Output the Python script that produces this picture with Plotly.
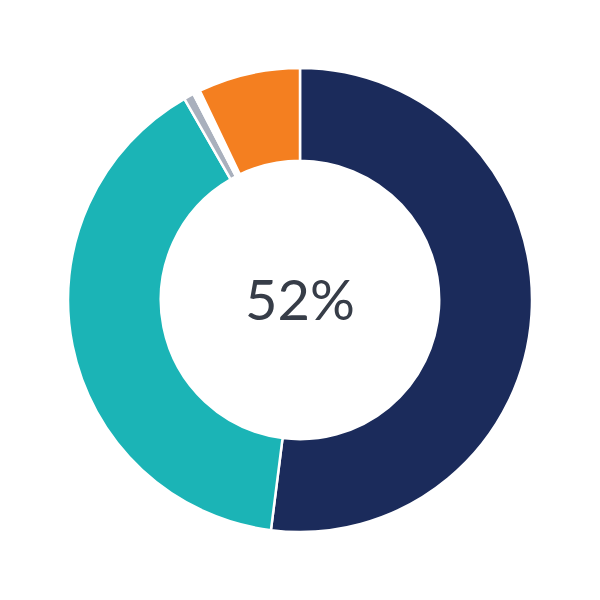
import plotly.graph_objects as go

labels = ["A", "B", "C", "D", "E"]
values = [52.0, 39.7, 0.7, 0.5, 7.1]
colors = ["#1b2b5b", "#1bb4b6", "#a9b0bd", "#ffffff", "#f47f20"]
center_text = "52%"

# page shows an 8px body margin; compensate so the ring centers at (300,300)
x0, x1 = 60/600, 524/600
y0, y1 = 76/600, 540/600

fig = go.Figure(go.Pie(
    labels=labels,
    values=values,
    hole=0.6,
    sort=False,
    direction="clockwise",
    rotation=0,
    marker=dict(colors=colors, line=dict(color="#ffffff", width=2.5)),
    textinfo="none",
    hoverinfo="label+percent",
    showlegend=False,
    domain=dict(x=[x0, x1], y=[y0, y1]),
))
fig.add_annotation(
    text=center_text, x=(x0 + x1) / 2, y=(y0 + y1) / 2 + 0.002,
    xref="paper", yref="paper",
    showarrow=False, font=dict(family="Lato", size=56, color="#373d48"),
)
fig.update_layout(
    width=600, height=600,
    margin=dict(l=0, r=0, t=0, b=0),
    paper_bgcolor="#ffffff", plot_bgcolor="#ffffff",
)
fig.write_html("out.html")
